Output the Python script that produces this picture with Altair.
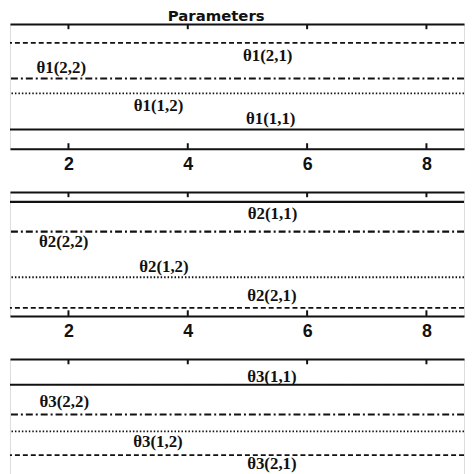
import altair as alt
import pandas as pd

# ---------------- data ----------------
x_ticks = [2, 4, 6, 8]
x_domain = [1.02, 8.63]

styles = ["solid", "dashdot", "dotted", "dashed"]
pairs = ["(1,1)", "(2,2)", "(1,2)", "(2,1)"]
panel_names = ["θ1", "θ2", "θ3"]

# level of each horizontal line (order follows `styles`)
p1_line_y = [0.155, 0.563, 0.444, 0.849]
p2_line_y = [0.920, 0.680, 0.312, 0.064]
p3_line_y = [0.794, 0.556, 0.421, 0.230]

# label positions (order follows `pairs`)
p1_label_x = [5.39, 1.88, 3.51, 5.34]
p1_label_y = [0.238, 0.651, 0.341, 0.746]
p2_label_x = [5.42, 1.92, 3.60, 5.41]
p2_label_y = [0.824, 0.600, 0.392, 0.160]
p3_label_x = [5.41, 1.93, 3.50, 5.41]
p3_label_y = [0.857, 0.659, 0.333, 0.159]

title_text = "Parameters"

# ---------------- styling ----------------
dash_range = [[1, 0], [7, 3, 2, 3], [1.5, 2], [5, 3]]
width_range = [2.2, 1.8, 1.3, 1.8]
INK = "#111111"
TICK_IN_TOP = 0.042     # inward tick length (in y units) at the top border
TICK_IN_BOTTOM = 0.045  # inward tick length at the bottom border

xscale = alt.Scale(domain=x_domain, nice=False, zero=False)


def panel(name, line_y, label_x, label_y, height, y_domain, bottom=True, title=None):
    yscale = alt.Scale(domain=y_domain, nice=False, zero=False)
    df_lines = pd.DataFrame({"style": styles, "y": line_y})
    df_labels = pd.DataFrame(
        {"label": [name + p for p in pairs], "x": label_x, "y": label_y}
    )
    y_lo, y_hi = y_domain
    tick_rows = [
        {"t": t, "y": y_hi, "y2": y_hi - TICK_IN_TOP} for t in x_ticks
    ]
    if bottom:
        tick_rows += [
            {"t": t, "y": y_lo, "y2": y_lo + TICK_IN_BOTTOM} for t in x_ticks
        ]
    df_ticks = pd.DataFrame(tick_rows)

    lines = alt.Chart(df_lines).mark_rule(color=INK).encode(
        y=alt.Y("y:Q", scale=yscale, axis=None),
        strokeDash=alt.StrokeDash(
            "style:N", scale=alt.Scale(domain=styles, range=dash_range), legend=None
        ),
        strokeWidth=alt.StrokeWidth(
            "style:N", scale=alt.Scale(domain=styles, range=width_range), legend=None
        ),
    )

    if bottom:
        label_axis = alt.Axis(
            orient="bottom", values=x_ticks, ticks=False, domain=True,
            domainWidth=2, domainColor=INK, grid=False,
            labelFont="Liberation Sans", labelFontWeight="bold", labelFontSize=18,
            labelColor=INK, labelPadding=7, title=None,
        )
    else:
        label_axis = None

    labels = alt.Chart(df_labels).mark_text(
        font="Liberation Serif", fontWeight="bold", fontSize=17, color=INK,
        align="center", baseline="middle",
    ).encode(
        x=alt.X("x:Q", scale=xscale, axis=label_axis),
        y=alt.Y("y:Q", scale=yscale, axis=None),
        text="label:N",
    )

    ticks = alt.Chart(df_ticks).mark_rule(color=INK, strokeWidth=2).encode(
        x=alt.X("t:Q", scale=xscale, axis=alt.Axis(
            orient="top", values=x_ticks, labels=False, ticks=False,
            domain=True, domainWidth=2, domainColor=INK, grid=False, title=None,
        )),
        y=alt.Y("y:Q", scale=yscale, axis=None),
        y2="y2:Q",
    )

    props = dict(width=458, height=height)
    if title is not None:
        props["title"] = title
    return alt.layer(lines, labels, ticks).resolve_axis(x="independent").properties(**props)


title = alt.TitleParams(
    title_text, font="DejaVu Sans", fontWeight="bold", fontSize=15,
    color=INK, offset=-1, anchor="middle", dx=-21,
)

p1 = panel(panel_names[0], p1_line_y, p1_label_x, p1_label_y, 126, [0, 1], True, title)
p2 = panel(panel_names[1], p2_line_y, p2_label_x, p2_label_y, 125, [0, 1], True)
p3 = panel(panel_names[2], p3_line_y, p3_label_x, p3_label_y, 126, [0, 1], False)

chart = alt.vconcat(p1, p2, p3, spacing=43.5, bounds="flush").properties(
    padding={"top": -2, "left": 0, "right": 0, "bottom": 0}
).configure_view(stroke=None).configure(background="white")

chart.save("out.html", embed_options={"renderer": "svg", "actions": False})
